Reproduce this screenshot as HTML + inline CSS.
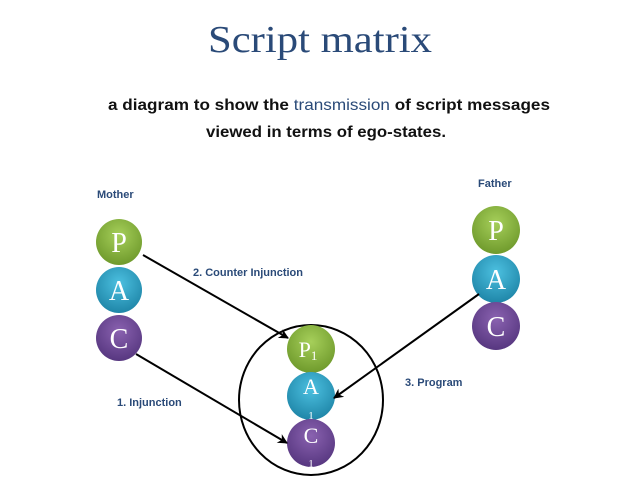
<!DOCTYPE html>
<html><head><meta charset="utf-8"><style>
html,body{margin:0;padding:0;background:#fff;}
svg{display:block;}
</style></head><body>
<svg width="638" height="479" viewBox="0 0 638 479" xmlns="http://www.w3.org/2000/svg">
<defs>
<radialGradient id="g" cx="50%" cy="35%" r="65%"><stop offset="0" stop-color="#a6cf5a"/><stop offset="1" stop-color="#6f9a2c"/></radialGradient>
<radialGradient id="b" cx="50%" cy="35%" r="65%"><stop offset="0" stop-color="#4cc0e0"/><stop offset="1" stop-color="#1f86a8"/></radialGradient>
<radialGradient id="p" cx="50%" cy="35%" r="65%"><stop offset="0" stop-color="#8a62b0"/><stop offset="1" stop-color="#573780"/></radialGradient>
<marker id="ar" markerWidth="10" markerHeight="10" refX="9" refY="5" orient="auto" markerUnits="userSpaceOnUse"><path d="M0,0 L10,5 L0,10 L3,5 z" fill="#000"/></marker>
</defs>
<text x="320" y="52" text-anchor="middle" font-family="Liberation Serif, serif" font-size="38" fill="#2a4a78" textLength="224" lengthAdjust="spacingAndGlyphs">Script matrix</text>
<text x="329" y="110" text-anchor="middle" font-family="Liberation Sans, sans-serif" font-weight="bold" font-size="16" fill="#111" textLength="442" lengthAdjust="spacingAndGlyphs">a diagram to show the <tspan fill="#2a4a78" font-weight="normal">transmission</tspan> of script messages</text>
<text x="326" y="137" text-anchor="middle" font-family="Liberation Sans, sans-serif" font-weight="bold" font-size="16" fill="#111" textLength="240" lengthAdjust="spacingAndGlyphs">viewed in terms of ego-states.</text>
<g font-family="Liberation Sans, sans-serif" font-size="11" font-weight="bold" fill="#2a4a78">
<text x="97" y="198">Mother</text>
<text x="478" y="187">Father</text>
<text x="193" y="276">2. Counter Injunction</text>
<text x="117" y="406">1. Injunction</text>
<text x="405" y="386">3. Program</text>
</g>
<ellipse cx="311" cy="400" rx="72" ry="75" fill="none" stroke="#000" stroke-width="2"/>
<g font-family="Liberation Serif, serif" fill="#fff" text-anchor="middle">
<circle cx="119" cy="242" r="23" fill="url(#g)"/><text x="119" y="252" font-size="28">P</text>
<circle cx="119" cy="290" r="23" fill="url(#b)"/><text x="119" y="300" font-size="28">A</text>
<circle cx="119" cy="338" r="23" fill="url(#p)"/><text x="119" y="348" font-size="28">C</text>
<circle cx="496" cy="230" r="24" fill="url(#g)"/><text x="496" y="240" font-size="28">P</text>
<circle cx="496" cy="279" r="24" fill="url(#b)"/><text x="496" y="289" font-size="28">A</text>
<circle cx="496" cy="326" r="24" fill="url(#p)"/><text x="496" y="336" font-size="28">C</text>
<circle cx="311" cy="349" r="24" fill="url(#g)"/><text x="308" y="357" font-size="22">P<tspan font-size="13" dy="3">1</tspan></text>
<circle cx="311" cy="396" r="24" fill="url(#b)"/><text x="311" y="394" font-size="22">A</text><text x="311" y="419" font-size="11">1</text>
<circle cx="311" cy="443" r="24" fill="url(#p)"/><text x="311" y="443" font-size="22">C</text><text x="311" y="467" font-size="11">1</text>
</g>
<g stroke="#000" stroke-width="2" fill="none">
<line x1="143" y1="255" x2="288" y2="338" marker-end="url(#ar)"/>
<line x1="136" y1="354" x2="287" y2="443" marker-end="url(#ar)"/>
<line x1="479" y1="294" x2="334" y2="398" marker-end="url(#ar)"/>
</g>
</svg>
</body></html>
